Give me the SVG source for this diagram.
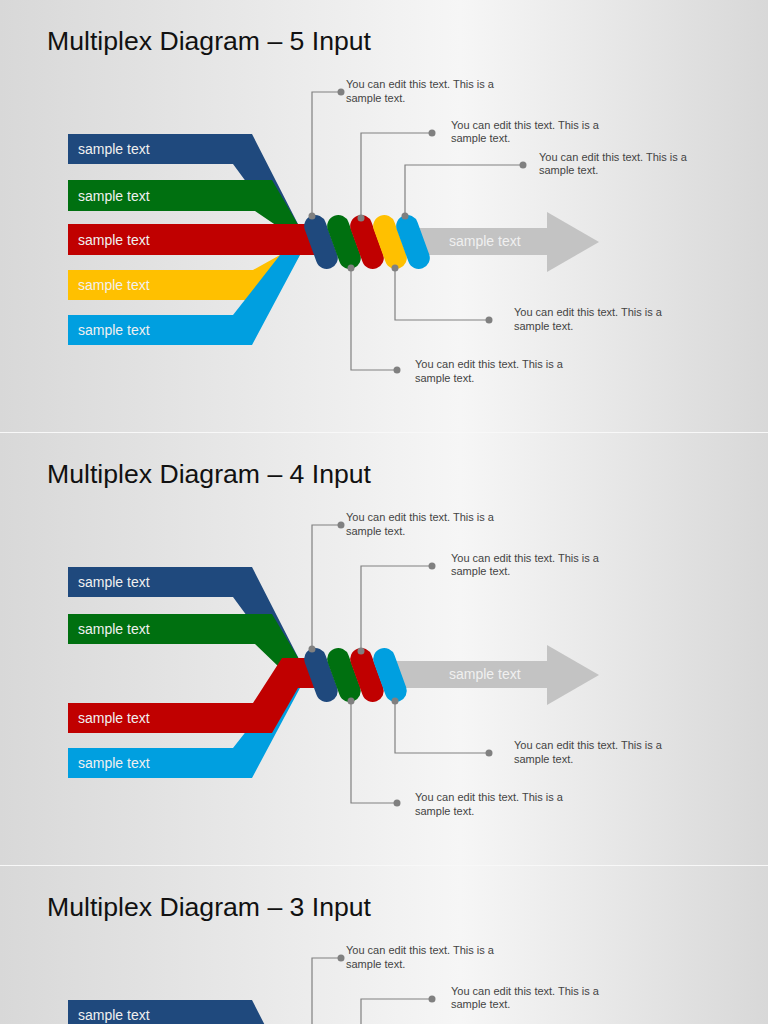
<svg xmlns="http://www.w3.org/2000/svg" width="768" height="1024" viewBox="0 0 768 1024">
<defs>
<linearGradient id="bg" x1="0" y1="0" x2="1" y2="0">
<stop offset="0" stop-color="#d8d8d8"/><stop offset="0.6" stop-color="#f6f6f6"/><stop offset="1" stop-color="#d8d8d8"/>
</linearGradient>
<rect id="tube" x="-11" y="-28" width="22" height="56" rx="11"/>
</defs>
<style>
.t{font-family:"Liberation Sans",Arial,sans-serif;font-size:25px;fill:#111}
.b{font-family:"Liberation Sans",Arial,sans-serif;font-size:14px;fill:#f0f0f0}
.s{font-family:"Liberation Sans",Arial,sans-serif;font-size:11px;fill:#444}
.l{fill:none;stroke:#808080;stroke-width:1.2}
.d{fill:#808080}
.db{fill:#1f497d}.gr{fill:#007010}.rd{fill:#c00000}.ye{fill:#ffc000}.lb{fill:#009fe0}
.ar{fill:#c3c3c3}
</style>
<rect width="768" height="1024" fill="url(#bg)"/>
<line x1="0" y1="432.5" x2="768" y2="432.5" stroke="#f8f8f8"/>
<line x1="0" y1="865.5" x2="768" y2="865.5" stroke="#f8f8f8"/>

<!-- Panel 1 -->
<g id="panel5">
<text class="t" x="47" y="50" textLength="324" lengthAdjust="spacingAndGlyphs">Multiplex Diagram – 5 Input</text>
<g id="p5-arrow"><rect class="ar" x="405" y="228" width="143" height="27"/><polygon class="ar" points="547,212 599,242 547,272"/><text class="b" x="449" y="246">sample text</text></g>
<g id="p5-in1"><polygon class="db" points="68,134 252,134 300,228 280,228 233,164 68,164"/><text class="b" x="78" y="154">sample text</text></g>
<g id="p5-in2"><polygon class="gr" points="68,180 272,180 300,228 280,228 255,211 68,211"/><text class="b" x="78" y="201">sample text</text></g>
<g id="p5-in4"><polygon class="ye" points="68,270 253,270 280,255 300,255 272,300 68,300"/><text class="b" x="78" y="290">sample text</text></g>
<g id="p5-in5"><polygon class="lb" points="68,315 233,315 280,255 300,255 252,345 68,345"/><text class="b" x="78" y="335">sample text</text></g>
<g id="p5-in3"><polygon class="rd" points="68,224 318,224 318,255 68,255"/><text class="b" x="78" y="245">sample text</text></g>
<g id="p5-tubes">
<use href="#tube" class="db" transform="translate(321,242) rotate(-20)"/>
<use href="#tube" class="gr" transform="translate(344,242) rotate(-20)"/>
<use href="#tube" class="rd" transform="translate(367,242) rotate(-20)"/>
<use href="#tube" class="ye" transform="translate(390,242) rotate(-20)"/>
<use href="#tube" class="lb" transform="translate(413,242) rotate(-20)"/>
</g>
<g id="p5-callouts">
<polyline class="l" points="312,216 312,92 341,92"/><circle class="d" cx="312" cy="216" r="3.5"/><circle class="d" cx="341" cy="92" r="3.5"/>
<text class="s" x="346" y="88">You can edit this text. This is a</text><text class="s" x="346" y="102">sample text.</text>
<polyline class="l" points="361,218 361,133 432,133"/><circle class="d" cx="361" cy="218" r="3.5"/><circle class="d" cx="432" cy="133" r="3.5"/>
<text class="s" x="451" y="129">You can edit this text. This is a</text><text class="s" x="451" y="142">sample text.</text>
<polyline class="l" points="405,216 405,165 523,165"/><circle class="d" cx="405" cy="216" r="3.5"/><circle class="d" cx="523" cy="165" r="3.5"/>
<text class="s" x="539" y="161">You can edit this text. This is a</text><text class="s" x="539" y="174">sample text.</text>
<polyline class="l" points="395,268 395,320 489,320"/><circle class="d" cx="395" cy="268" r="3.5"/><circle class="d" cx="489" cy="320" r="3.5"/>
<text class="s" x="514" y="316">You can edit this text. This is a</text><text class="s" x="514" y="330">sample text.</text>
<polyline class="l" points="351,268 351,370 397,370"/><circle class="d" cx="351" cy="268" r="3.5"/><circle class="d" cx="397" cy="370" r="3.5"/>
<text class="s" x="415" y="368">You can edit this text. This is a</text><text class="s" x="415" y="382">sample text.</text>
</g>
</g>

<!-- Panel 2 -->
<g id="panel4" transform="translate(0,433)">
<text class="t" x="47" y="50" textLength="324" lengthAdjust="spacingAndGlyphs">Multiplex Diagram – 4 Input</text>
<g id="p4-arrow"><rect class="ar" x="395" y="228" width="153" height="27"/><polygon class="ar" points="547,212 599,242 547,272"/><text class="b" x="449" y="246">sample text</text></g>
<g id="p4-in1"><polygon class="db" points="68,134 252,134 300,228 280,228 233,164 68,164"/><text class="b" x="78" y="154">sample text</text></g>
<g id="p4-in2"><polygon class="gr" points="68,181 272,181 300,228 280,235 255,211 68,211"/><text class="b" x="78" y="201">sample text</text></g>
<g id="p4-in4"><polygon class="lb" points="68,315 233,315 280,255 300,255 252,345 68,345"/><text class="b" x="78" y="335">sample text</text></g>
<g id="p4-in3"><polygon class="rd" points="68,270 253,270 282,225 318,225 318,255 298,255 272,300 68,300"/><text class="b" x="78" y="290">sample text</text></g>
<g id="p4-tubes">
<use href="#tube" class="db" transform="translate(321,242) rotate(-20)"/>
<use href="#tube" class="gr" transform="translate(344,242) rotate(-20)"/>
<use href="#tube" class="rd" transform="translate(367,242) rotate(-20)"/>
<use href="#tube" class="lb" transform="translate(390,242) rotate(-20)"/>
</g>
<g id="p4-callouts">
<polyline class="l" points="312,216 312,92 341,92"/><circle class="d" cx="312" cy="216" r="3.5"/><circle class="d" cx="341" cy="92" r="3.5"/>
<text class="s" x="346" y="88">You can edit this text. This is a</text><text class="s" x="346" y="102">sample text.</text>
<polyline class="l" points="361,218 361,133 432,133"/><circle class="d" cx="361" cy="218" r="3.5"/><circle class="d" cx="432" cy="133" r="3.5"/>
<text class="s" x="451" y="129">You can edit this text. This is a</text><text class="s" x="451" y="142">sample text.</text>
<polyline class="l" points="395,268 395,320 489,320"/><circle class="d" cx="395" cy="268" r="3.5"/><circle class="d" cx="489" cy="320" r="3.5"/>
<text class="s" x="514" y="316">You can edit this text. This is a</text><text class="s" x="514" y="330">sample text.</text>
<polyline class="l" points="351,268 351,370 397,370"/><circle class="d" cx="351" cy="268" r="3.5"/><circle class="d" cx="397" cy="370" r="3.5"/>
<text class="s" x="415" y="368">You can edit this text. This is a</text><text class="s" x="415" y="382">sample text.</text>
</g>
</g>

<!-- Panel 3 -->
<g id="panel3" transform="translate(0,866)">
<text class="t" x="47" y="50" textLength="324" lengthAdjust="spacingAndGlyphs">Multiplex Diagram – 3 Input</text>
<g id="p3-in1"><polygon class="db" points="68,134 252,134 300,228 280,228 233,164 68,164"/><text class="b" x="78" y="154">sample text</text></g>
<g id="p3-callouts">
<polyline class="l" points="312,216 312,92 341,92"/><circle class="d" cx="341" cy="92" r="3.5"/>
<text class="s" x="346" y="88">You can edit this text. This is a</text><text class="s" x="346" y="102">sample text.</text>
<polyline class="l" points="361,218 361,133 432,133"/><circle class="d" cx="432" cy="133" r="3.5"/>
<text class="s" x="451" y="129">You can edit this text. This is a</text><text class="s" x="451" y="142">sample text.</text>
</g>
</g>
</svg>
